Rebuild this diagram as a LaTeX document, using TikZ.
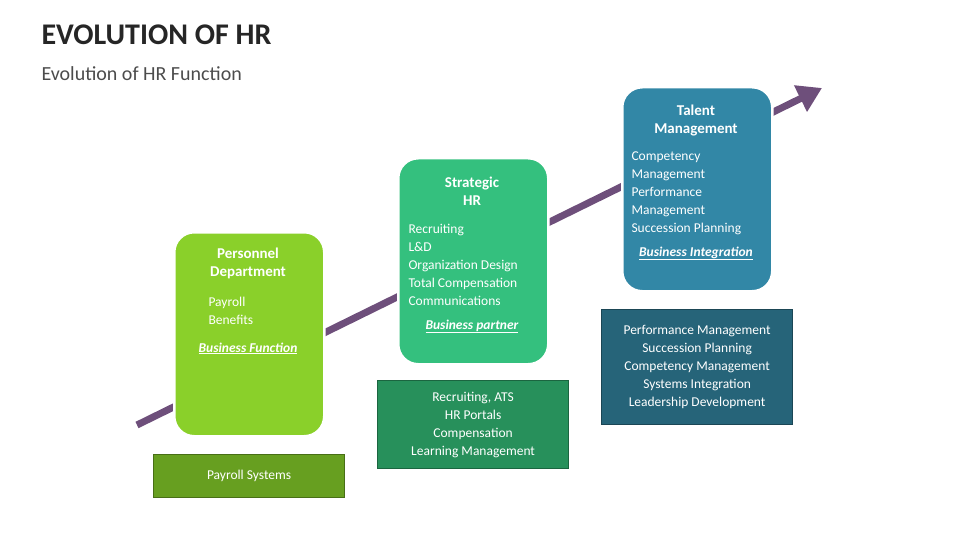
\documentclass[tikz,border=0pt]{standalone}
\usepackage{fontspec}
\setmainfont{Carlito}
\usetikzlibrary{arrows.meta}
\definecolor{cA}{HTML}{8AD02A}
\definecolor{cB}{HTML}{34C07E}
\definecolor{cC}{HTML}{3287A6}
\definecolor{bA}{HTML}{679F20}
\definecolor{bB}{HTML}{27905B}
\definecolor{bC}{HTML}{266479}
\definecolor{arr}{HTML}{6E4F7B}
\begin{document}
\begin{tikzpicture}[x=1pt,y=-1pt,
  card/.style={draw=white,line width=2.5pt,rounded corners=20pt,anchor=north west,inner sep=0,
    drop shadow/.style={}},
  lowbox/.style={draw=#1!70!black,line width=1.2pt,fill=#1,anchor=north west,inner sep=0},
  ctitle/.style={font=\bfseries\fontsize{15}{18}\selectfont,text=white,align=center,anchor=north},
  citems/.style={font=\fontsize{13.5}{18}\selectfont,text=white,align=left,anchor=north west},
  clink/.style={font=\itshape\bfseries\fontsize{13.5}{18}\selectfont,text=white,anchor=north},
  ltext/.style={font=\fontsize{13.5}{18}\selectfont,text=white,align=center}]
\useasboundingbox (0,0) rectangle (960,540);
\node[anchor=west,font=\bfseries\fontsize{30}{34}\selectfont,text=black!85] (t) at (38,35) {EVOLUTION OF HR};
\node[anchor=west,font=\fontsize{20}{24}\selectfont,text=black!70] (st) at (38,74) {Evolution of HR Function};
\coordinate (a0) at (137,425);
\coordinate (a1) at (822,88);
\draw[arr,line width=7pt,-{Triangle[length=24pt,width=28pt]}] (a0) -- (a1);
% cards
\node[card,fill=cA,minimum width=150,minimum height=204] (c1) at (173,231) {};
\node[card,fill=cB,minimum width=150,minimum height=206] (c2) at (397,157) {};
\node[card,fill=cC,minimum width=150,minimum height=204] (c3) at (621,86) {};
\node[ctitle] (t1) at (248,244) {Personnel\\Department};
\node[citems] (i1) at (205,294) {Payroll\\Benefits};
\node[clink] (l1) at (248,339) {\underline{Business Function}};
\node[ctitle] (t2) at (472,173) {Strategic\\HR};
\node[citems] (i2) at (405,221) {Recruiting\\L\&D\\Organization Design\\Total Compensation\\Communications};
\node[clink] (l2) at (472,316) {\underline{Business partner}};
\node[ctitle] (t3) at (696,101) {Talent\\Management};
\node[citems] (i3) at (628,148) {Competency\\Management\\Performance\\Management\\Succession Planning};
\node[clink] (l3) at (696,243) {\underline{Business Integration}};
% lower boxes
\node[lowbox=bA,minimum width=191,minimum height=43] (b1) at (153,454) {};
\node[ltext] at (b1.center) (bt1) {Payroll Systems};
\node[lowbox=bB,minimum width=191,minimum height=88] (b2) at (377,380) {};
\node[ltext] at (b2.center) (bt2) {Recruiting, ATS\\HR Portals\\Compensation\\Learning Management};
\node[lowbox=bC,minimum width=191,minimum height=115] (b3) at (601,309) {};
\node[ltext] at (b3.center) (bt3) {Performance Management\\Succession Planning\\Competency Management\\Systems Integration\\Leadership Development};
\end{tikzpicture}
\end{document}
